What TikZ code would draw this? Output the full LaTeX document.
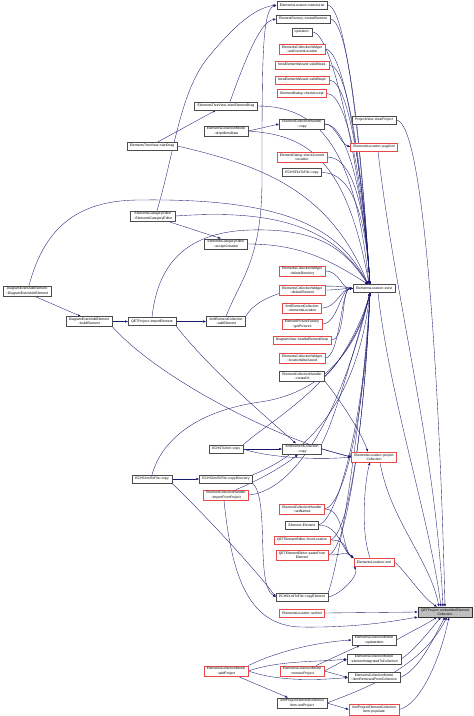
\documentclass[tikz,border=0pt]{standalone}
\usepackage{fontspec}
\setmainfont{Liberation Sans}
\usetikzlibrary{arrows.meta}
\definecolor{edgec}{HTML}{191970}
\definecolor{redb}{HTML}{E84848}
\definecolor{grayf}{HTML}{BFBFBF}
\pgfdeclarelayer{bg}
\pgfsetlayers{bg,main}
\tikzset{
 fn/.style={draw=black!70, line width=0.35pt, fill=white, font=\fontsize{3.4}{4.3}\selectfont, align=center, inner xsep=3pt, inner ysep=1.5pt, minimum height=8pt},
 rn/.style={fn, draw=redb},
 tn/.style={fn, fill=grayf, draw=black!80},
 cedge/.style={draw=edgec, line width=0.35pt, -{Latex[length=3pt,width=2.3pt]}},
}
\begin{document}
\begin{tikzpicture}[x=1pt,y=1pt]
\useasboundingbox (0,0) rectangle (474,-716);
\node[fn] (nl) at (302,-5) {ElementsLocation::namesList};
\node[fn] (cf) at (303,-19) {ElementFactory::createElement};
\node[fn] (op) at (302,-32) {operator\textless\textless};
\node[rn] (scl) at (302,-49) {ElementsCollectionWidget\\::setCurrentLocation};
\node[rn] (v1) at (302,-65) {NewElementWizard::validStep1};
\node[rn] (v2) at (302,-80) {NewElementWizard::validStep2};
\node[rn] (ca) at (302,-93.5) {ElementDialog::checkAccept};
\node[fn] (sed) at (226,-106) {ElementsTreeView::startElementDrag};
\node[fn] (cp) at (374,-120) {ProjectView::clearProject};
\node[fn] (ehc) at (302,-124) {ElementCollectionHandler\\::copy};
\node[fn] (dmd) at (226,-131) {ElementsCollectionModel\\::dropMimeData};
\node[fn] (sd) at (152,-146) {ElementsTreeView::startDrag};
\node[rn] (px) at (374,-147) {ElementsLocation::pugiXml};
\node[rn] (ccl) at (302,-157) {ElementDialog::checkCurrent\\Location};
\node[fn] (ff) at (302,-172.5) {ECHSFileToFile::copy};
\node[fn] (ece) at (153,-216) {ElementsCategoryEditor\\::ElementsCategoryEditor};
\node[fn] (ac) at (226,-244) {ElementsCategoryEditor\\::acceptCreation};
\node[rn] (dd) at (302,-271) {ElementsCollectionWidget\\::deleteDirectory};
\node[fn] (ex) at (374,-288.5) {ElementsLocation::exist};
\node[rn] (de) at (302,-290) {ElementsCollectionWidget\\::deleteElement};
\node[rn] (xel) at (302,-308) {XmlElementCollection\\::elementsLocation};
\node[rn] (gp) at (302,-324) {ElementPictureFactory\\::getPictures};
\node[fn] (dea) at (27,-291) {DiagramEventAddElement\\::DiagramEventAddElement};
\node[fn] (be) at (89,-321.5) {DiagramEventAddElement\\::buildElement};
\node[fn] (ie) at (152,-321.5) {QETProject::importElement};
\node[fn] (ae) at (226,-321.5) {XmlElementCollection\\::addElement};
\node[rn] (hed) at (302,-340) {DiagramView::handleElementDrop};
\node[rn] (lws) at (302,-358) {ElementsCollectionWidget\\::locationWasSaved};
\node[fn] (cd) at (302,-376) {ElementCollectionHandler\\::createDir};
\node[fn] (xc) at (302,-449) {XmlElementCollection\\::copy};
\node[fn] (tx) at (226,-449) {ECHSToXml::copy};
\node[rn] (pc) at (374,-457) {ElementsLocation::project\\Collection};
\node[fn] (xf) at (152,-479) {ECHSXmlToFile::copy};
\node[fn] (cdir) at (226,-479) {ECHSXmlToFile::copyDirectory};
\node[rn] (ifp) at (226,-495) {ElementCollectionHandler\\::importFromProject};
\node[rn] (sn) at (302,-509) {ElementCollectionHandler\\::setNames};
\node[fn] (el) at (302,-525) {Element::Element};
\node[rn] (fl) at (302,-540) {QETElementEditor::fromLocation};
\node[rn] (pfe) at (302,-555) {QETElementEditor::pasteFrom\\Element};
\node[rn] (xml) at (374,-562) {ElementsLocation::xml};
\node[fn] (ce) at (302,-597) {ECHSXmlToFile::copyElement};
\node[rn] (sx) at (302,-613) {ElementsLocation::setXml};
\node[tn] (E) at (445,-612) {QETProject::embeddedElement\\Collection};
\node[fn] (ui) at (374,-640) {ElementsCollectionModel\\::updateItem};
\node[fn] (eic) at (374,-659) {ElementsCollectionModel\\::elementIntegratedToCollection};
\node[rn] (ap) at (226,-671) {ElementsCollectionModel\\::addProject};
\node[rn] (rp) at (302,-671) {ElementsCollectionModel\\::removeProject};
\node[fn] (irc) at (374,-677.5) {ElementsCollectionModel\\::itemRemovedFromCollection};
\node[fn] (sp) at (302,-703) {XmlProjectElementCollection\\Item::setProject};
\node[rn] (pop) at (374,-709.5) {XmlProjectElementCollection\\Item::populate};

\begin{pgfonlayer}{bg}
% top nodes -> exist
\foreach \n in {nl,cf,op,scl,v1,v2,ca,ehc,ccl,ff}
  \draw[cedge] (\n.east) .. controls +(22,0) and +(-6,90) .. ([xshift=-4pt]ex.north);
\draw[cedge] (sed.east) .. controls (320,-106) and (355,-150) .. ([xshift=-5pt]ex.north);
\draw[cedge] (dmd.east) .. controls (300,-135) and (345,-150) .. ([xshift=-5pt]ex.north);
\draw[cedge] ([xshift=4pt]sed.north) .. controls (245,-60) and (260,-22) .. (cf.west);
\draw[cedge] ([xshift=6pt]sd.north) -- ([xshift=-10pt]sed.south);
\draw[cedge] (sd.east) .. controls (260,-165) and (330,-190) .. ([xshift=-6pt]ex.north);
\draw[cedge] (dmd.east) -- (ehc.west);
\draw[cedge] (ehc.east) .. controls (335,-124) and (340,-143) .. (px.west);
\draw[cedge] ([xshift=4pt]ece.north) .. controls (175,-150) and (180,-90) .. (210,-55) .. controls (235,-25) and (255,-8) .. (nl.west);
\draw[cedge] ([xshift=15pt]ece.south) -- ([xshift=-5pt]ac.north);
\draw[cedge] (ece.east) .. controls (260,-210) and (330,-220) .. ([xshift=-6pt]ex.north);
\draw[cedge] (ac.east) .. controls (300,-244) and (330,-260) .. ([xshift=-6pt]ex.north);
\draw[cedge] ([xshift=8pt]dea.south) -- ([xshift=-8pt]be.north);
\draw[cedge] ([xshift=2pt]dea.north) .. controls (45,-225) and (80,-200) .. (140,-200) .. controls (290,-198) and (340,-230) .. ([xshift=-6pt]ex.north);
\draw[cedge] (be.east) -- (ie.west);
\draw[cedge] (ie.east) -- (ae.west);
\draw[cedge] (ie.north) .. controls (158,-260) and (190,-232) .. (250,-230) .. controls (320,-228) and (345,-250) .. ([xshift=-6pt]ex.north);
\draw[cedge] (ae.north) .. controls (240,-280) and (262,-260) .. (262,-180) .. controls (262,-60) and (262,-10) .. (nl.west);
\draw[cedge] (ae.north east) .. controls (260,-290) and (320,-282) .. (ex.west);
\draw[cedge] (ie.south east) .. controls (210,-370) and (270,-420) .. ([xshift=-6pt]xc.north);
\draw[cedge] (be.south east) .. controls (160,-380) and (280,-440) .. (pc.west);
\foreach \n in {dd,de,xel,gp,hed,lws}
  \draw[cedge] (\n.east) .. controls +(15,0) and +(-12,0) .. (ex.west);
\draw[cedge] (cd.east) .. controls (335,-370) and (360,-330) .. ([xshift=-4pt]ex.south);
\draw[cedge] (cd.south east) .. controls (340,-400) and (360,-430) .. ([xshift=-6pt]pc.north);
\draw[cedge] (xc.east) -- (pc.west);
\draw[cedge] (tx.east) -- (xc.west);
\draw[cedge] (tx.east) .. controls (270,-458) and (320,-460) .. (pc.west);
\draw[cedge] (xc.north east) .. controls (335,-420) and (360,-330) .. ([xshift=-4pt]ex.south);
\draw[cedge] (tx.north east) .. controls (270,-420) and (350,-380) .. ([xshift=-4pt]ex.south);
\draw[cedge] (xf.east) -- (cdir.west);
\draw[cedge] (xf.north) .. controls (160,-445) and (190,-412) .. (260,-402) .. controls (330,-392) and (360,-340) .. ([xshift=-4pt]ex.south);
\draw[cedge] (xf.south east) .. controls (220,-530) and (262,-578) .. (ce.west);
\draw[cedge] (cdir.south east) .. controls (270,-500) and (255,-585) .. (ce.west);
\draw[cedge] (cdir.north east) .. controls (290,-460) and (355,-420) .. ([xshift=-4pt]ex.south);
\draw[cedge] ([xshift=10pt]ifp.north) .. controls (260,-480) and (285,-465) .. ([xshift=-4pt]xc.south);
\draw[cedge] (ifp.east) .. controls (300,-490) and (345,-400) .. ([xshift=-4pt]ex.south);
\draw[cedge] ([xshift=-2pt]ifp.south) .. controls (232,-580) and (250,-625) .. (300,-627) .. controls (360,-628) and (400,-620) .. (E.south west);
\foreach \n in {sn,el,fl,pfe}{
  \draw[cedge] (\n.east) .. controls +(20,0) and +(-12,8) .. (xml.north west);
  \draw[cedge] (\n.east) .. controls +(20,5) and +(-5,-120) .. ([xshift=-4pt]ex.south);
}
\draw[cedge] (ce.east) .. controls (340,-595) and (360,-575) .. (xml.south west);
\draw[cedge] (ce.north east) .. controls (340,-560) and (362,-420) .. ([xshift=-4pt]ex.south);
\draw[cedge] ([xshift=-4pt]xml.north) .. controls (360,-530) and (365,-480) .. ([xshift=-4pt]pc.south);
\draw[cedge] (sx.east) -- (E.west);
\draw[cedge] (xml.east) .. controls (405,-570) and (420,-595) .. ([xshift=-8pt]E.north);
\draw[cedge] ([xshift=6pt]pc.south) .. controls (390,-520) and (430,-560) .. ([xshift=-6pt]E.north);
\draw[cedge] ([xshift=4pt]ex.south) .. controls (390,-400) and (430,-520) .. ([xshift=-4pt]E.north);
\draw[cedge] ([xshift=4pt]px.south) .. controls (395,-300) and (436,-450) .. ([xshift=-2pt]E.north);
\draw[cedge] (cp.east) .. controls (425,-120) and (440,-400) .. (E.north);
\draw[cedge] (ui.east) .. controls (410,-632) and (425,-625) .. ([xshift=-8pt]E.south);
\draw[cedge] (eic.east) .. controls (415,-650) and (430,-630) .. ([xshift=-4pt]E.south);
\draw[cedge] (irc.east) .. controls (420,-670) and (435,-635) .. (E.south);
\draw[cedge] (sp.east) .. controls (360,-690) and (420,-670) .. ([xshift=2pt]E.south);
\draw[cedge] (pop.east) .. controls (420,-705) and (440,-660) .. ([xshift=4pt]E.south);
\draw[cedge] (sp.east) -- (pop.west);
\draw[cedge] (ap.north east) .. controls (280,-650) and (320,-642) .. (ui.west);
\draw[cedge] (ap.east) .. controls (280,-660) and (320,-662) .. (eic.west);
\draw[cedge] (ap.east) .. controls (280,-682) and (320,-680) .. (irc.west);
\draw[cedge] ([xshift=12pt]ap.south) -- ([xshift=-14pt]sp.north);
\draw[cedge] ([xshift=14pt]rp.north) -- ([xshift=-14pt]ui.south);
\draw[cedge] (rp.east) -- (eic.west);
\draw[cedge] (rp.east) -- (irc.west);
\end{pgfonlayer}
\end{tikzpicture}
\end{document}
